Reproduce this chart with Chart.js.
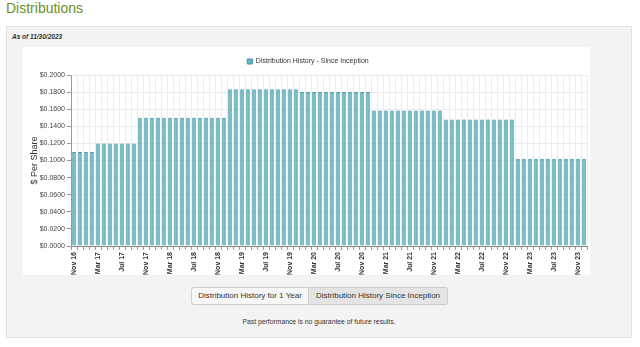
<!DOCTYPE html>
<html>
<head>
<meta charset="utf-8">
<script src="https://cdn.jsdelivr.net/npm/chart.js@4"></script>
<style>
    body { margin: 0; background: #fff; font-family: "Liberation Sans", Arial, sans-serif; width: 640px; height: 347px; position: relative; overflow: hidden; }
    h2 { position: absolute; left: 6px; top: 0px; margin: 0; font-size: 14px; font-weight: normal; color: #6b8e23; }
    .panel { position: absolute; left: 6px; top: 26px; width: 624px; height: 310px; background: #f3f3f3; border: 1px solid #e2e2e2; }
    .asof { position: absolute; left: 5px; top: 6px; font-size: 6.5px; font-weight: bold; font-style: italic; color: #333; }
    .chart-wrap { position: absolute; left: 16px; top: 20px; width: 567px; height: 228px; background: #fff; }
    .buttons { position: absolute; left: 184px; top: 260px; display: flex; }
    .buttons div { font-size: 8px; color: #333; height: 16px; line-height: 16px; border: 1px solid #ccc; background: #f6f6f6; padding: 0 6px; }
    .buttons div:first-child { border-radius: 3px 0 0 3px; width: 104px; text-align: center; }
    .buttons div:last-child { border-radius: 0 3px 3px 0; border-left: none; background: #e4e4e4; width: 126px; text-align: center; }
    .note { position: absolute; left: 0; width: 624px; top: 291px; text-align: center; font-size: 6.8px; color: #333; }
</style>
</head>
<body>
<h2>Distributions</h2>
<div class="panel">
    <div class="asof">As of 11/30/2023</div>
    <div class="chart-wrap"><canvas id="distChart" width="567" height="228"></canvas></div>
    <div class="buttons"><div>Distribution History for 1 Year</div><div>Distribution History Since Inception</div></div>
    <div class="note">Past performance is no guarantee of future results.</div>
</div>
<script>
// Monthly payout dates, Nov 2016 through Dec 2023
const months = [
    'Nov 16', 'Dec 16',
    'Jan 17', 'Feb 17', 'Mar 17', 'Apr 17', 'May 17', 'Jun 17', 'Jul 17', 'Aug 17', 'Sep 17', 'Oct 17', 'Nov 17', 'Dec 17',
    'Jan 18', 'Feb 18', 'Mar 18', 'Apr 18', 'May 18', 'Jun 18', 'Jul 18', 'Aug 18', 'Sep 18', 'Oct 18', 'Nov 18', 'Dec 18',
    'Jan 19', 'Feb 19', 'Mar 19', 'Apr 19', 'May 19', 'Jun 19', 'Jul 19', 'Aug 19', 'Sep 19', 'Oct 19', 'Nov 19', 'Dec 19',
    'Jan 20', 'Feb 20', 'Mar 20', 'Apr 20', 'May 20', 'Jun 20', 'Jul 20', 'Aug 20', 'Sep 20', 'Oct 20', 'Nov 20', 'Dec 20',
    'Jan 21', 'Feb 21', 'Mar 21', 'Apr 21', 'May 21', 'Jun 21', 'Jul 21', 'Aug 21', 'Sep 21', 'Oct 21', 'Nov 21', 'Dec 21',
    'Jan 22', 'Feb 22', 'Mar 22', 'Apr 22', 'May 22', 'Jun 22', 'Jul 22', 'Aug 22', 'Sep 22', 'Oct 22', 'Nov 22', 'Dec 22',
    'Jan 23', 'Feb 23', 'Mar 23', 'Apr 23', 'May 23', 'Jun 23', 'Jul 23', 'Aug 23', 'Sep 23', 'Oct 23', 'Nov 23', 'Dec 23'
];

// $ per share paid each month
const distributions = [
    0.11, 0.11,
    0.11, 0.11, 0.12, 0.12, 0.12, 0.12, 0.12, 0.12, 0.12, 0.15, 0.15, 0.15,
    0.15, 0.15, 0.15, 0.15, 0.15, 0.15, 0.15, 0.15, 0.15, 0.15, 0.15, 0.15,
    0.1833, 0.1833, 0.1833, 0.1833, 0.1833, 0.1833, 0.1833, 0.1833, 0.1833, 0.1833, 0.1833, 0.1833,
    0.18, 0.18, 0.18, 0.18, 0.18, 0.18, 0.18, 0.18, 0.18, 0.18, 0.18, 0.18,
    0.1585, 0.1585, 0.1585, 0.1585, 0.1585, 0.1585, 0.1585, 0.1585, 0.1585, 0.1585, 0.1585, 0.1585,
    0.148, 0.148, 0.148, 0.148, 0.148, 0.148, 0.148, 0.148, 0.148, 0.148, 0.148, 0.148,
    0.102, 0.102, 0.102, 0.102, 0.102, 0.102, 0.102, 0.102, 0.102, 0.102, 0.102, 0.102
];

const yTicks = [0, 0.02, 0.04, 0.06, 0.08, 0.10, 0.12, 0.14, 0.16, 0.18, 0.20];

Chart.defaults.font.family = '"Liberation Sans", Arial, sans-serif';
Chart.defaults.color = '#333';

const ctx = document.getElementById('distChart').getContext('2d');
new Chart(ctx, {
    type: 'bar',
    data: {
        labels: months,
        datasets: [{
            label: 'Distribution History - Since Inception',
            data: distributions,
            backgroundColor: '#62b4c2',
            borderColor: '#3c93a3',
            borderWidth: 1,
            barPercentage: 0.6,
            categoryPercentage: 1.0
        }]
    },
    options: {
        responsive: false,
        animation: false,
        layout: { padding: { left: 6, right: 3, top: 1, bottom: 0 } },
        plugins: {
            legend: {
                labels: {
                    boxWidth: 5,
                    boxHeight: 5,
                    padding: 10,
                    font: { size: 7 },
                    color: '#333'
                }
            },
            tooltip: { enabled: false }
        },
        scales: {
            x: {
                afterFit: function (axis) {
                    axis.height = 29;
                    axis.paddingLeft = 0;
                    axis.paddingRight = 0;
                },
                grid: { color: '#ececec', tickLength: 4, tickColor: '#999' },
                border: { color: '#888' },
                ticks: {
                    autoSkip: false,
                    maxRotation: 90,
                    minRotation: 90,
                    padding: 2,
                    font: { size: 7, weight: 'bold' },
                    color: '#333',
                    callback: function (value, index) {
                        return index % 4 === 0 ? months[index] : '';
                    }
                }
            },
            y: {
                min: 0,
                max: 0.2,
                afterBuildTicks: function (axis) {
                    axis.ticks = yTicks.map(v => ({ value: v }));
                },
                afterFit: function (axis) {
                    axis.width = 42;
                    axis.paddingTop = 0;
                    axis.paddingBottom = 0;
                },
                grid: { color: '#ebebeb', tickLength: 4, tickColor: '#999' },
                border: { color: '#999' },
                title: { display: true, text: '$ Per Share', font: { size: 9 }, color: '#333', padding: 0 },
                ticks: {
                    padding: 2,
                    font: { size: 7 },
                    color: '#444',
                    callback: value => '$' + Number(value).toFixed(4)
                }
            }
        }
    }
});
</script>
</body>
</html>
